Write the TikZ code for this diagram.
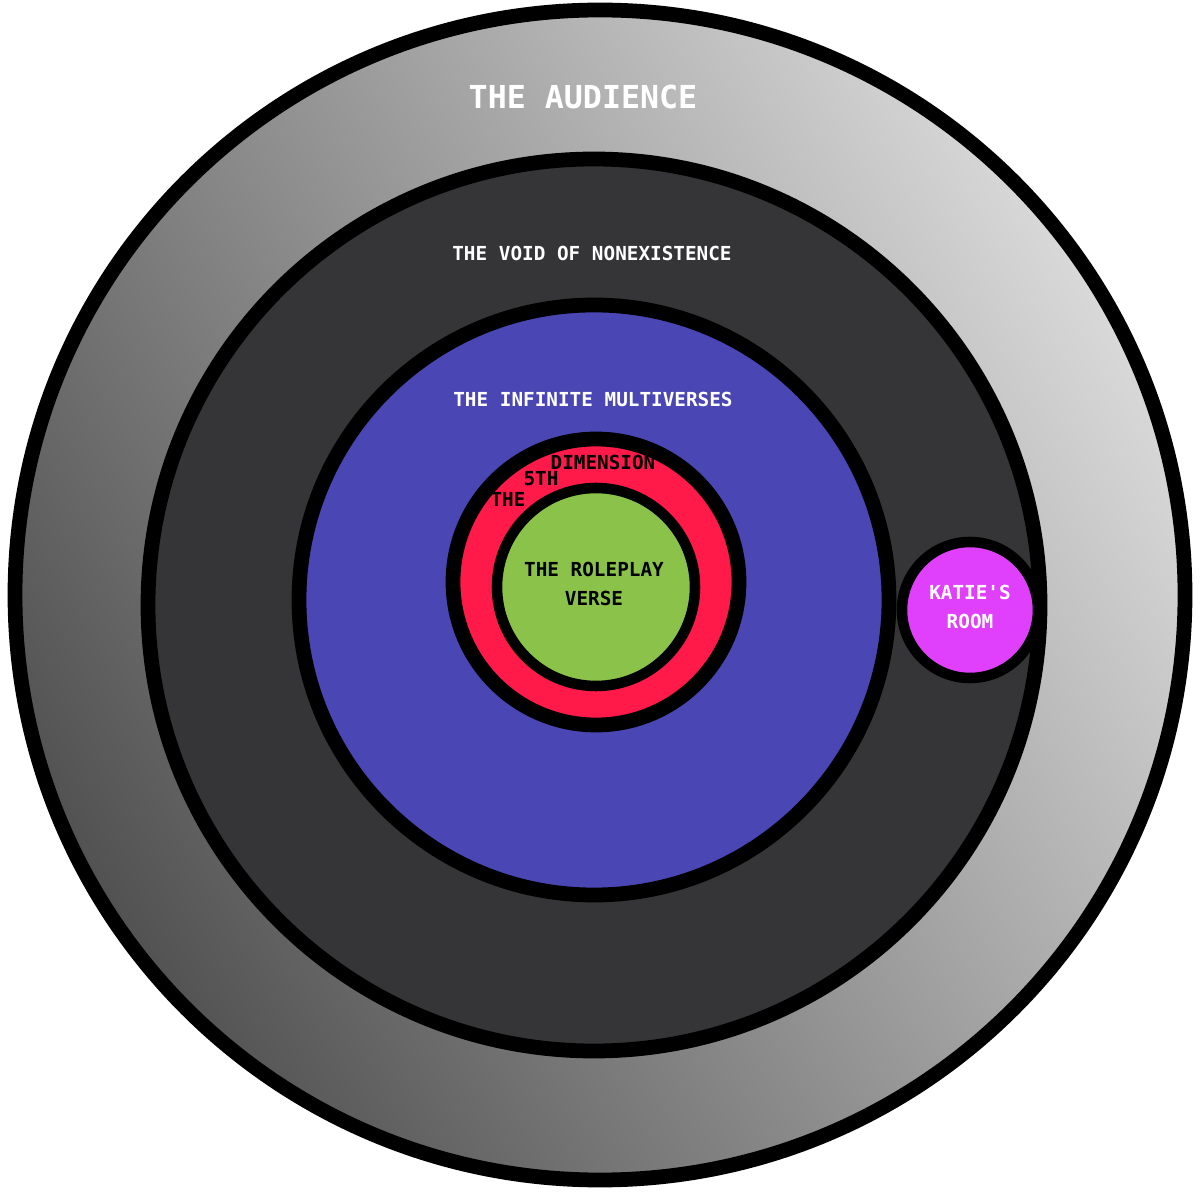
\documentclass[tikz,border=0pt]{standalone}
\usepackage{fontspec}
\setmonofont{DejaVu Sans Mono}
\usetikzlibrary{positioning}

\definecolor{voidgray}{HTML}{353537}
\definecolor{multiblue}{HTML}{4A47B5}
\definecolor{fifthred}{HTML}{FF1A4A}
\definecolor{rpgreen}{HTML}{8BC34A}
\definecolor{katiepink}{HTML}{E040FB}

\begin{document}
\begin{tikzpicture}
  [every node/.style={circle,draw=black,line width=4.2pt,inner sep=0pt},
   lbl/.style={draw=none,rectangle,font=\ttfamily\bfseries\fontsize{5.5}{6}\selectfont}]

  \useasboundingbox[fill=white] (0,0) rectangle (12,12);

  \node[minimum size=11.7cm, left color=black!68, right color=black!15,
        shading angle=120] (audience) at (6.0,6.05) {};
  \node[minimum size=8.92cm, fill=voidgray]   (void)   at (5.94,5.95) {};
  \node[minimum size=5.9cm, fill=multiblue]   (multi)  at (5.94,6.0)  {};
  \node[minimum size=2.86cm, fill=fifthred]   (fifth)  at (5.96,6.18) {};
  \node[minimum size=1.98cm, fill=rpgreen, line width=3pt] (rp) at (5.96,6.13) {};
  \node[minimum size=1.36cm, fill=katiepink, line width=3pt] (katie) at (9.70,5.90) {};

  % labels
  \node[lbl, text=white, font=\ttfamily\bfseries\fontsize{9}{10}\selectfont]
        at (5.83,11.03) {THE AUDIENCE};
  \node[lbl, text=white] at (5.92,9.47) {THE VOID OF NONEXISTENCE};
  \node[lbl, text=white] at (5.93,8.01) {THE INFINITE MULTIVERSES};
  \node[lbl] at (6.03,7.38) {DIMENSION};
  \node[lbl] at (5.41,7.21) {5TH};
  \node[lbl] at (5.08,7.01) {THE};
  \node[lbl, align=center] at (5.94,6.16) {THE ROLEPLAY\\[2pt]VERSE};
  \node[lbl, text=white, align=center] at (9.70,5.93) {KATIE'S\\[2pt]ROOM};
\end{tikzpicture}
\end{document}
